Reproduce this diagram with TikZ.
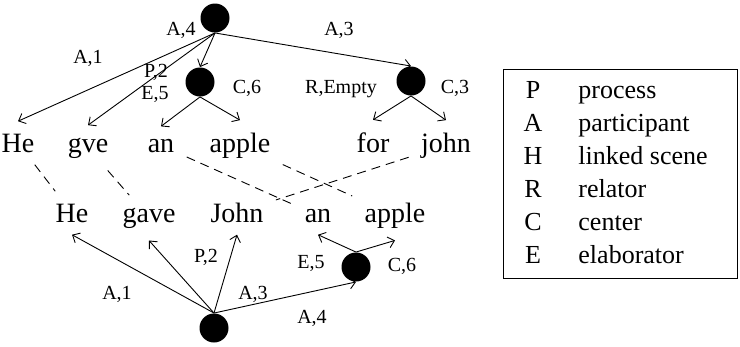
\documentclass[tikz,border=0pt]{standalone}
\usepackage{fontspec}
\setmainfont{Liberation Serif}
\usetikzlibrary{arrows.meta}

\begin{document}
\begin{tikzpicture}[x=1pt, y=-1pt, line width=0.9pt,
    dot/.style={circle, fill, inner sep=0pt, minimum size=29pt},
    word/.style={font=\fontsize{28}{30}\selectfont, inner sep=12pt, anchor=base},
    lab/.style={font=\fontsize{20}{22}\selectfont, inner sep=0pt, anchor=base},
    key/.style={font=\fontsize{26}{28}\selectfont, inner sep=0pt, anchor=base},
    edge/.style={-{Straight Barb[length=6pt, width=11pt]}},
    link/.style={dash pattern=on 9pt off 6pt}]
    \useasboundingbox (0,0) rectangle (740,346);
    % first parse
    \node[dot] (root) at (215,18) {};
    \node[dot] (pe) at (200,82) {};
    \node[dot] (rc) at (411,81) {};
    \node[word] (he1) at (18,152) {He};
    \node[word] (gve) at (88,152) {gve};
    \node[word] (an1) at (161,152) {an};
    \node[word] (apple1) at (240,152) {apple};
    \node[word] (for) at (373,152) {for};
    \node[word] (john1) at (446,152) {john};
    \draw[edge] (root.south) -- (he1.north);
    \draw[edge] (root.south) -- (gve.north);
    \draw[edge] (root.south) -- (pe.north);
    \draw[edge] (root.south) -- (rc.north);
    \draw[edge] (pe.south) -- (an1.north);
    \draw[edge] (pe.south) -- (apple1.north);
    \draw[edge] (rc.south) -- (for.north);
    \draw[edge] (rc.south) -- (john1.north);
    \node[lab] at (181,35) {A,4};
    \node[lab] at (88,63) {A,1};
    \node[lab] at (339,35) {A,3};
    \node[lab] at (156,77) {P,2};
    \node[lab] at (155,99) {E,5};
    \node[lab] at (247,93) {C,6};
    \node[lab] at (341,93) {R,Empty};
    \node[lab] at (455,93) {C,3};
    % second parse
    \node[dot] (root2) at (214,328) {};
    \node[dot] (ec) at (356,267) {};
    \node[word] (he2) at (72,222) {He};
    \node[word] (gave) at (149,222) {gave};
    \node[word] (john2) at (237,222) {John};
    \node[word] (an2) at (318,222) {an};
    \node[word] (apple2) at (395,222) {apple};
    \draw[edge] (root2.north) -- (he2.south);
    \draw[edge] (root2.north) -- (gave.south);
    \draw[edge] (root2.north) -- (john2.south);
    \draw[edge] (root2.north) -- (ec.south);
    \draw[edge] (ec.north) -- (an2.south);
    \draw[edge] (ec.north) -- (apple2.south);
    \node[lab] at (117,299) {A,1};
    \node[lab] at (206,262) {P,2};
    \node[lab] at (253,299) {A,3};
    \node[lab] at (312,323) {A,4};
    \node[lab] at (311,268) {E,5};
    \node[lab] at (402,271) {C,6};
    % alignment
    \draw[link] (he1) -- (he2);
    \draw[link] (gve) -- (gave);
    \draw[link] (an1) -- (an2);
    \draw[link] (apple1) -- (apple2);
    \draw[link] (john1) -- (john2);
    % legend
    \node[draw, minimum width=234pt, minimum height=209pt, inner sep=0pt] (legend) at (620,173.5) {};
    \foreach \k/\d [count=\i] in {P/process, A/participant, H/linked scene, R/relator, C/center, E/elaborator} {
        \node[key] (k\i) at (533,65+33*\i) {\k};
        \node[key, anchor=base west] (d\i) at (578,65+33*\i) {\d};
    }
\end{tikzpicture}
\end{document}
